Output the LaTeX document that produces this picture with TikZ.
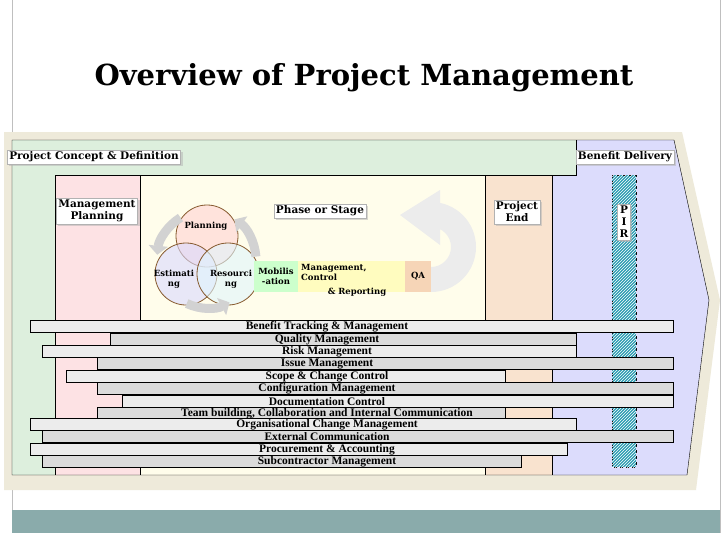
\documentclass[tikz,border=0pt]{standalone}
\usepackage{fontspec}
\setmainfont{DejaVu Serif}
\newfontfamily\barfont{Liberation Serif}
\usetikzlibrary{patterns,arrows.meta,shadows}
\definecolor{cgreen}{HTML}{DDEFDD}
\definecolor{cpink}{HTML}{FDE2E4}
\definecolor{cyell}{HTML}{FFFDEB}
\definecolor{cpeach}{HTML}{F9E3CF}
\definecolor{clav}{HTML}{DCDCFC}
\definecolor{cteal}{HTML}{8AABAB}
\definecolor{cbeige}{HTML}{EEEADA}
\definecolor{chatch}{HTML}{2E9DB3}
\begin{document}
\begin{tikzpicture}[x=1pt,y=-1pt,
  lab/.style={draw=gray!60,fill=white,font=\bfseries\fontsize{10.5}{12}\selectfont,align=center,inner sep=2pt,drop shadow={shadow xshift=2pt,shadow yshift=-2pt,fill=gray!60}},
  barA/.style={draw,fill=gray!15},
  barB/.style={draw,fill=gray!28},
  bartxt/.style={font=\barfont\bfseries\fontsize{11.5}{11.5}\selectfont,inner sep=0pt},
  sm/.style={font=\bfseries\fontsize{8.5}{10}\selectfont,align=center,inner sep=1pt},
  garrow/.style={line width=9pt,draw=gray!35,-{Triangle[length=9pt,width=19pt]}}]
\useasboundingbox (0,0) rectangle (728,546);
\fill[white] (0,0) rectangle (728,546);
\draw[gray!50] (12,0) -- (12,533) (720,0) -- (720,533);
\fill[cteal] (12,510) rectangle (720,533);
\node[font=\bfseries\fontsize{29}{31}\selectfont] (title) at (364,78) {Overview of Project Management};
% frame
\fill[cbeige] (4,132) -- (682,132) -- (720,300) -- (696,490) -- (4,490) -- cycle;
\fill[cgreen] (12,140) rectangle (576,475);
\fill[clav] (576,140) -- (674,140) -- (709,300) -- (687,475) -- (552,475) -- (552,175) -- (576,175) -- cycle;
\fill[cpink] (55,175) rectangle (140,475);
\fill[cyell] (140,175) rectangle (485,475);
\fill[cpeach] (485,175) rectangle (552,475);
\draw (55,475) -- (55,175) -- (576,175) -- (576,140);
\draw (140,175) -- (140,475) (485,175) -- (485,475) (552,175) -- (552,475);
\draw (12,140) -- (674,140) -- (709,300) -- (687,475) -- (12,475) -- cycle;
% PIR
\draw[dashed,fill=chatch] (612,175) rectangle (636,467);
\fill[pattern=north east lines,pattern color=white] (612,175) rectangle (636,467);
\node[lab,inner sep=2pt] (pir) at (624,222) {P\\I\\R};
% labels
\node[lab] (pcd) at (94,157) {Project Concept \& Definition};
\node[lab] (bd) at (625,157) {Benefit Delivery};
\node[lab] (mp) at (97,211) {Management\\Planning};
\node[lab] (ps) at (320,211) {Phase or Stage};
\node[lab] (pe) at (517,212) {Project\\End};
% venn
\begin{scope}[draw=brown!70!black,thick]
\filldraw[fill=pink!70,fill opacity=.6] (207,236) circle (31);
\filldraw[fill=blue!15,fill opacity=.6] (186,274) circle (31);
\filldraw[fill=cyan!12,fill opacity=.6] (228,274) circle (31);
\end{scope}
\draw[garrow] ([shift={(238:50)}]207,260) arc (238:186:50);
\draw[garrow] ([shift={(-4:49)}]207,260) arc (-4:-56:49);
\draw[garrow] ([shift={(115:48)}]207,260) arc (115:62:48);
\node[sm] (plan) at (206,226) {Planning};
\node[sm] (est) at (174,279) {Estimati\\ng};
\node[sm] (res) at (231,279) {Resourci\\ng};
% phase boxes
\node[fill=green!20,minimum width=44,minimum height=31,sm] (mob) at (276,276.5) {Mobilis\\-ation};
\node[fill=yellow!25,minimum width=107,minimum height=31,inner sep=0] (mcr) at (351.5,276.5) {};
\node[sm,align=left,anchor=north west] (mcrt) at (300,263) {Management,\\Control};
\node[sm] (rep) at (357,292) {\& Reporting};
\node[fill=cpeach!150,minimum width=26,minimum height=31,sm] (qa) at (418,276.5) {QA};
% U-turn arrow
\fill[gray!15] (431,292) arc (90:-90:45) -- (431,227) arc (-90:90:20) -- cycle;
\fill[gray!15] (440,190) -- (400,215) -- (440,245) -- cycle;
% bars
\foreach \i/\a/\b/\y/\s/\t in {
 1/30/673/320/barA/Benefit Tracking \& Management,
 2/110/576/333/barB/Quality Management,
 3/42/576/345/barA/Risk Management,
 4/97/673/357/barB/Issue Management,
 5/66/505/370/barA/Scope \& Change Control,
 6/97/673/382/barB/Configuration Management,
 7/122/673/395/barA/Documentation Control,
 8/97/505/407/barB/{Team building, Collaboration and Internal Communication},
 9/30/576/418/barA/Organisational Change Management,
 10/42/673/430/barB/External Communication,
 11/30/567/443/barA/Procurement \& Accounting,
 12/42/521/455/barB/Subcontractor Management}{
  \draw[\s] (\a,\y) rectangle (\b,\y+12.5);
  \node[bartxt] (bar\i) at (327,\y+6.5) {\t};
}
\end{tikzpicture}
\end{document}
